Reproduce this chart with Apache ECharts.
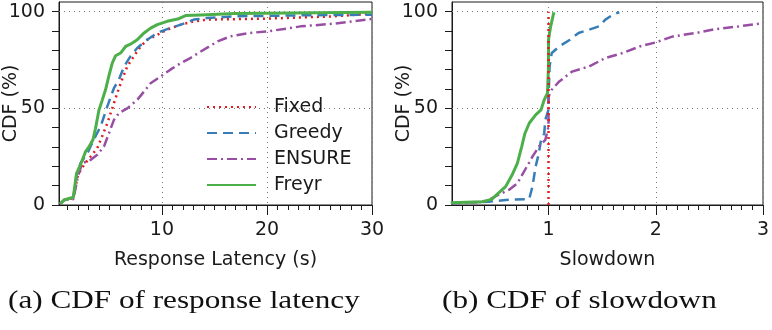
<!DOCTYPE html>
<html>
<head>
<meta charset="utf-8">
<script src="https://cdn.jsdelivr.net/npm/echarts@6/dist/echarts.min.js"></script>
<style>
  html, body { margin: 0; padding: 0; background: #fff; }
  #chart { width: 772px; height: 330px; }
</style>
</head>
<body>
<div id="chart"></div>
<script>
// series names
const names = ["Fixed", "Greedy", "ENSURE", "Freyr"];
const colors = ["#e41a1c", "#377eb8", "#984ea3", "#4daf4a"];

// (a) response latency CDF: [latency (s), CDF %]
const latencyFixed = [
  [0.3, 0.5], [0.7, 2.6], [1.56, 3.5], [2.0, 15.5], [2.57, 20.7], [3.2, 25], [3.84, 29.4],
  [4.3, 35.4], [4.8, 42.3], [5.27, 50], [5.75, 57.9], [6.2, 64.8], [6.7, 71.7], [7.33, 76.9],
  [7.97, 82], [8.6, 85.5], [9.56, 88], [10.5, 90.7], [11.8, 93.3], [13.05, 95], [14.3, 95.9],
  [20, 96.4], [26.4, 97.6], [30, 99]
];
const latencyGreedy = [
  [0.3, 0.5], [0.7, 2.6], [1.56, 3.5], [1.87, 15.5], [2.25, 21.6], [2.9, 26.8], [3.5, 33.7],
  [4.16, 40.6], [4.8, 51], [5.43, 60.4], [5.9, 64.8], [6.4, 71.7], [7.0, 76.9], [7.65, 81.2],
  [8.6, 85.5], [9.56, 89], [10.5, 91], [11.8, 93.3], [13.05, 95.9], [14.3, 96.7], [16.9, 97.6],
  [23.2, 98.1], [30, 98.4]
];
const latencyEnsure = [
  [0.3, 0.5], [0.7, 2.6], [1.56, 3], [2.0, 14.7], [2.4, 21.6], [3.2, 23.3], [3.84, 26],
  [4.48, 30.2], [4.95, 37], [5.43, 44], [5.9, 47.5], [6.7, 50], [7.65, 54.4], [8.3, 58.7],
  [8.92, 63], [9.87, 66.5], [10.8, 70], [11.8, 73.4], [12.7, 76], [13.7, 79.4], [14.5, 82],
  [15.3, 84.6], [16.5, 87.2], [18.4, 89], [20, 89.8], [21.6, 91], [23.2, 92.4], [26.4, 93.8],
  [30, 96.2]
];
const latencyFreyr = [
  [0.3, 0.5], [0.67, 2.6], [1.56, 4], [1.87, 16.4], [2.1, 19], [2.4, 23], [2.73, 27.6],
  [3.05, 30], [3.43, 33.7], [3.68, 39.7], [4.0, 49], [4.3, 54], [4.63, 59.6], [4.95, 66.8],
  [5.27, 73.4], [5.59, 77.2], [6.06, 78.6], [6.54, 82], [7.0, 83.2], [7.65, 85.5], [8.3, 89],
  [8.92, 91.5], [9.56, 93.3], [10.5, 95], [11.5, 96.2], [12.25, 98], [13.7, 98.3], [16.9, 99],
  [30, 99.7]
];

// (b) slowdown CDF: [slowdown, CDF %]
const slowdownFixed = [[1, 0], [1, 100]];
const slowdownGreedy = [
  [0.09, 0.9], [0.44, 1.7], [0.6, 2.6], [0.82, 3.1], [0.85, 9.5], [0.88, 19.9], [0.91, 26.8],
  [0.93, 33.7], [0.96, 37], [0.97, 44], [1.0, 49.2], [1.0, 54.4], [1.01, 71.7], [1.03, 78.6],
  [1.1, 82], [1.2, 85.5], [1.28, 89], [1.38, 90.7], [1.47, 92.4], [1.53, 95.9], [1.6, 98.4],
  [1.66, 99.7]
];
const slowdownEnsure = [
  [0.09, 0.9], [0.41, 1.7], [0.53, 5.2], [0.63, 7.8], [0.71, 11.2], [0.78, 18.1], [0.85, 25],
  [0.91, 30.2], [0.97, 33.7], [1.0, 40.6], [1.0, 56], [1.03, 59.6], [1.1, 63.9], [1.22, 69],
  [1.38, 71.7], [1.53, 76], [1.69, 78.6], [1.85, 82], [2.0, 84.1], [2.16, 87.2], [2.38, 89],
  [2.56, 91], [2.78, 92.4], [3.0, 94.1]
];
const slowdownFreyr = [
  [0.09, 1.2], [0.38, 1.7], [0.47, 2.9], [0.53, 6], [0.6, 9.5], [0.66, 15.5], [0.71, 21.6],
  [0.75, 30.2], [0.78, 37], [0.82, 42.3], [0.88, 46.6], [0.93, 49.2], [0.96, 54.4],
  [0.99, 57.9], [1.0, 71.7], [1.0, 85.5], [1.02, 92.4], [1.05, 99.7]
];

// ticks, labels and dotted grid lines
const cdfLabels = [0, 50, 100];
const cdfTicks = [0, 10, 20, 30, 40, 50, 60, 70, 80, 90, 100];
const cdfGridLines = [50, 100];
const latencyLabels = [10, 20, 30];
const latencyMinorTicks = [1, 2, 3, 4, 5, 6, 7, 8, 9, 11, 12, 13, 14, 15, 16, 17, 18, 19,
  21, 22, 23, 24, 25, 26, 27, 28, 29];
const slowdownLabels = [1, 2, 3];
const slowdownMinorTicks = [0.2, 0.3, 0.4, 0.5, 0.6, 0.7, 0.8, 0.9, 1.1, 1.2, 1.3, 1.4, 1.5,
  1.6, 1.7, 1.8, 1.9, 2.1, 2.2, 2.3, 2.4, 2.5, 2.6, 2.7, 2.8, 2.9];

const captions = ["(a) CDF of response latency", "(b) CDF of slowdown"];

const sans = "DejaVu Sans";
const ink = "#1a1a1a";
const dotted = { color: "#777", type: [1, 4], width: 1 };
const lineTypes = [[2, 4], [10, 6], [10, 4, 2, 4], "solid"];
const lineWidths = [2.5, 2.5, 2.5, 3];

function mainX(grid, min, max, labels, name) {
  return {
    type: "value", gridIndex: grid, min: min, max: max, position: "bottom",
    axisLine: { show: true, lineStyle: { color: ink, width: 1 } },
    axisTick: { show: true, customValues: labels, length: 10, lineStyle: { color: ink } },
    axisLabel: { customValues: labels, margin: 16, fontSize: 19, fontFamily: sans, color: ink },
    splitLine: { show: true, lineStyle: dotted },
    name: name, nameLocation: "middle", nameGap: 46, nameMoveOverlap: false,
    nameTextStyle: { fontSize: 19, fontFamily: sans, color: ink },
  };
}

function minorX(grid, min, max, ticks) {
  return {
    type: "value", gridIndex: grid, min: min, max: max, position: "bottom",
    axisLine: { show: false },
    axisTick: { show: true, customValues: ticks, length: 5, lineStyle: { color: ink } },
    axisLabel: { show: false },
    splitLine: { show: false },
  };
}

function cdfY(grid) {
  return {
    type: "value", gridIndex: grid, min: 0, max: 105, position: "left",
    axisLine: { show: true, lineStyle: { color: ink, width: 1 } },
    axisTick: { show: true, customValues: cdfTicks, length: 7, lineStyle: { color: ink } },
    axisLabel: { customValues: cdfLabels, margin: 14, fontSize: 19, fontFamily: sans, color: ink },
    splitLine: { show: false },
    name: "CDF (%)", nameLocation: "middle", nameGap: 38, nameRotate: 90, nameMoveOverlap: false,
    nameTextStyle: { fontSize: 19, fontFamily: sans, color: ink },
  };
}

function makeSeries(data, i, xIdx, yIdx, withGrid) {
  const s = {
    name: names[i], type: "line", data: data, xAxisIndex: xIdx, yAxisIndex: yIdx,
    symbol: "none", color: colors[i],
    lineStyle: { color: colors[i], width: lineWidths[i], type: lineTypes[i] },
  };
  if (withGrid) {
    s.markLine = {
      silent: true, symbol: "none", animation: false, z: 1,
      label: { show: false }, lineStyle: dotted,
      emphasis: { disabled: true },
      data: cdfGridLines.map((v) => ({ yAxis: v })),
    };
  }
  return s;
}

const chart = echarts.init(document.getElementById("chart"));

chart.setOption({
  animation: false,
  grid: [
    { left: 59, top: 2, width: 313, height: 203, show: true, borderColor: ink, borderWidth: 1,
      outerBoundsMode: "none" },
    { left: 452, top: 2, width: 311, height: 203, show: true, borderColor: ink, borderWidth: 1,
      outerBoundsMode: "none" },
  ],
  xAxis: [
    mainX(0, 0.2, 30, latencyLabels, "Response Latency (s)"),
    minorX(0, 0.2, 30, latencyMinorTicks),
    mainX(1, 0.1, 3, slowdownLabels, "Slowdown"),
    minorX(1, 0.1, 3, slowdownMinorTicks),
  ],
  yAxis: [cdfY(0), cdfY(1)],
  legend: {
    data: names, orient: "vertical", left: 206, top: 97, padding: 0,
    itemWidth: 49, itemHeight: 20, itemGap: 6,
    itemStyle: { opacity: 0 },
    textStyle: { fontSize: 19, fontFamily: sans, color: ink, lineHeight: 20, padding: [0, 0, 0, 13] },
  },
  series: [
    makeSeries(latencyFixed, 0, 0, 0, true),
    makeSeries(latencyGreedy, 1, 0, 0),
    makeSeries(latencyEnsure, 2, 0, 0),
    makeSeries(latencyFreyr, 3, 0, 0),
    makeSeries(slowdownGreedy, 1, 2, 1, true),
    makeSeries(slowdownEnsure, 2, 2, 1),
    makeSeries(slowdownFreyr, 3, 2, 1),
    makeSeries(slowdownFixed, 0, 2, 1),
  ],
  graphic: [
    { type: "text", x: 8, y: 288, scaleX: 1.2,
      style: { text: captions[0], font: "26px 'Liberation Serif'", fill: "#111" } },
    { type: "text", x: 442, y: 288, scaleX: 1.2,
      style: { text: captions[1], font: "26px 'Liberation Serif'", fill: "#111" } },
  ],
});
</script>
</body>
</html>
